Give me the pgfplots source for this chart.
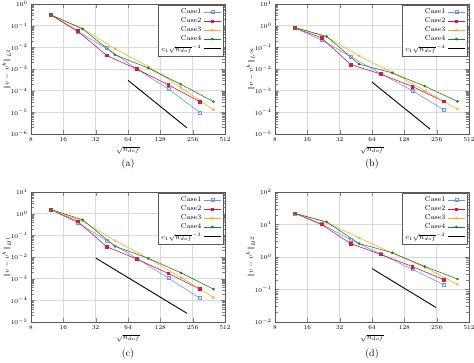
\documentclass[border=0pt]{standalone}
\usepackage{pgfplots}
\pgfplotsset{compat=1.18}
\definecolor{cA}{RGB}{110,150,230}
\definecolor{cB}{RGB}{215,25,70}
\definecolor{cC}{RGB}{255,170,40}
\definecolor{cD}{RGB}{30,130,40}
\pgfplotsset{
  scale only axis, width=194pt, height=130pt,
  log basis x=2,
  xmin=8, xmax=512, xtick={8,16,32,64,128,256,512},
  xticklabels={8,16,32,64,128,256,512},
  grid=major, major grid style={gray!30},
  axis line style={gray!70!black},
  tick label style={font=\fontsize{6}{7}\selectfont},
  label style={font=\scriptsize},
  xlabel={$\sqrt{n_{dof}}$},
  xlabel style={yshift=2pt},
  legend style={font=\scriptsize, at={(0.99,0.99)}, anchor=north east,
    legend cell align=right, row sep=-1.5pt, inner sep=1.5pt, draw=gray!70!black},
  legend plot pos=right,
}
\begin{document}
\begin{tikzpicture}
\useasboundingbox (0,0) rectangle (474pt,363pt);
% (a)
\begin{loglogaxis}[anchor=south west, at={(31pt,229pt)}, ymin=1e-6, ymax=1,
  ytick={1e-6,1e-5,1e-4,1e-3,1e-2,1e-1,1},
  after end axis/.code={\node[rotate=90, font=\scriptsize] at (rel axis cs:-0.125,0.5) {$\|v-v^h\|_{L^2}$};}]
\addplot[cA, line width=0.6pt, mark=square, mark size=1.5pt, mark options={fill=white}] coordinates {(12.3,0.31) (21.7,0.053) (40.5,0.0091) (77,0.0010) (152,1.2e-4) (298,1.0e-5)};
\addplot[cB, line width=0.6pt, mark=square*, mark size=1.3pt] coordinates {(12.3,0.31) (21.7,0.057) (40.5,0.0042) (77,0.0010) (152,1.86e-4) (298,3.1e-5)};
\addplot[cC, line width=0.6pt, mark=star, mark size=1.5pt] coordinates {(12.3,0.31) (24.2,0.075) (48.5,0.0085) (99,0.0013) (199,1.4e-4) (400,1.3e-5)};
\addplot[cD, line width=0.6pt, mark=*, mark size=1pt] coordinates {(12.3,0.31) (24.2,0.07) (48.5,0.0045) (99,0.0011) (199,1.95e-4) (400,3.1e-5)};
\addplot[black, line width=0.9pt, no marks] coordinates {(64,3e-4) (227,1.9e-6)};
\legend{Case1,Case2,Case3,Case4,$c_1\sqrt{n_{dof}}^{-4}$}
\end{loglogaxis}
% (b)
\begin{loglogaxis}[anchor=south west, at={(275pt,229pt)}, ymin=1e-5, ymax=10,
  ytick={1e-5,1e-4,1e-3,1e-2,1e-1,1,10},
  after end axis/.code={\node[rotate=90, font=\scriptsize] at (rel axis cs:-0.125,0.5) {$\|v-v^h\|_{L^\infty}$};}]
\addplot[cA, line width=0.6pt, mark=square, mark size=1.5pt, mark options={fill=white}] coordinates {(12.3,0.78) (21.7,0.215) (40.5,0.037) (77,0.0062) (152,0.0010) (298,1.3e-4)};
\addplot[cB, line width=0.6pt, mark=square*, mark size=1.3pt] coordinates {(12.3,0.78) (21.7,0.275) (40.5,0.016) (77,0.0059) (152,0.00155) (298,3.2e-4)};
\addplot[cC, line width=0.6pt, mark=star, mark size=1.5pt] coordinates {(12.3,0.8) (24.2,0.30) (48.5,0.04) (99,0.0069) (199,0.0010) (400,1.4e-4)};
\addplot[cD, line width=0.6pt, mark=*, mark size=1pt] coordinates {(12.3,0.82) (24.2,0.32) (48.5,0.0167) (99,0.0066) (199,0.0016) (400,3.2e-4)};
\addplot[black, line width=0.9pt, no marks] coordinates {(64,2.5e-3) (222,1.7e-5)};
\legend{Case1,Case2,Case3,Case4,$c_1\sqrt{n_{dof}}^{-4}$}
\end{loglogaxis}
% (c)
\begin{loglogaxis}[anchor=south west, at={(31pt,41pt)}, ymin=1e-5, ymax=10,
  ytick={1e-5,1e-4,1e-3,1e-2,1e-1,1,10},
  after end axis/.code={\node[rotate=90, font=\scriptsize] at (rel axis cs:-0.125,0.5) {$\|v-v^h\|_{H^1}$};}]
\addplot[cA, line width=0.6pt, mark=square, mark size=1.5pt, mark options={fill=white}] coordinates {(12.3,1.5) (21.7,0.38) (40.5,0.058) (77,0.0087) (152,0.00107) (298,1.26e-4)};
\addplot[cB, line width=0.6pt, mark=square*, mark size=1.3pt] coordinates {(12.3,1.5) (21.7,0.44) (40.5,0.030) (77,0.0081) (152,0.00174) (298,3.3e-4)};
\addplot[cC, line width=0.6pt, mark=star, mark size=1.5pt] coordinates {(12.3,1.5) (24.2,0.45) (48.5,0.058) (99,0.0085) (199,0.00115) (400,1.35e-4)};
\addplot[cD, line width=0.6pt, mark=*, mark size=1pt] coordinates {(12.3,1.55) (24.2,0.52) (48.5,0.031) (99,0.0087) (199,0.00187) (400,3.3e-4)};
\addplot[black, line width=0.9pt, no marks] coordinates {(32,9e-3) (227,2.5e-5)};
\legend{Case1,Case2,Case3,Case4,$c_1\sqrt{n_{dof}}^{-3}$}
\end{loglogaxis}
% (d)
\begin{loglogaxis}[anchor=south west, at={(275pt,41pt)}, ymin=1e-2, ymax=100,
  ytick={1e-2,1e-1,1,10,100},
  after end axis/.code={\node[rotate=90, font=\scriptsize] at (rel axis cs:-0.125,0.5) {$\|v-v^h\|_{H^2}$};}]
\addplot[cA, line width=0.6pt, mark=square, mark size=1.5pt, mark options={fill=white}] coordinates {(12.3,22) (21.7,10.5) (40.5,3.4) (77,1.23) (152,0.42) (298,0.14)};
\addplot[cB, line width=0.6pt, mark=square*, mark size=1.3pt] coordinates {(12.3,22) (21.7,10) (40.5,2.6) (77,1.2) (152,0.51) (298,0.2)};
\addplot[cC, line width=0.6pt, mark=star, mark size=1.5pt] coordinates {(12.3,22) (24.2,11.5) (48.5,3.9) (99,1.32) (199,0.48) (400,0.145)};
\addplot[cD, line width=0.6pt, mark=*, mark size=1pt] coordinates {(12.3,22) (24.2,12) (48.5,2.6) (99,1.35) (199,0.51) (400,0.21)};
\addplot[black, line width=0.9pt, no marks] coordinates {(64,0.44) (252,0.028)};
\legend{Case1,Case2,Case3,Case4,$c_1\sqrt{n_{dof}}^{-2}$}
\end{loglogaxis}
\node at (128pt,199pt) {(a)};
\node at (372pt,199pt) {(b)};
\node at (128pt,9pt) {(c)};
\node at (372pt,9pt) {(d)};
\end{tikzpicture}
\end{document}
